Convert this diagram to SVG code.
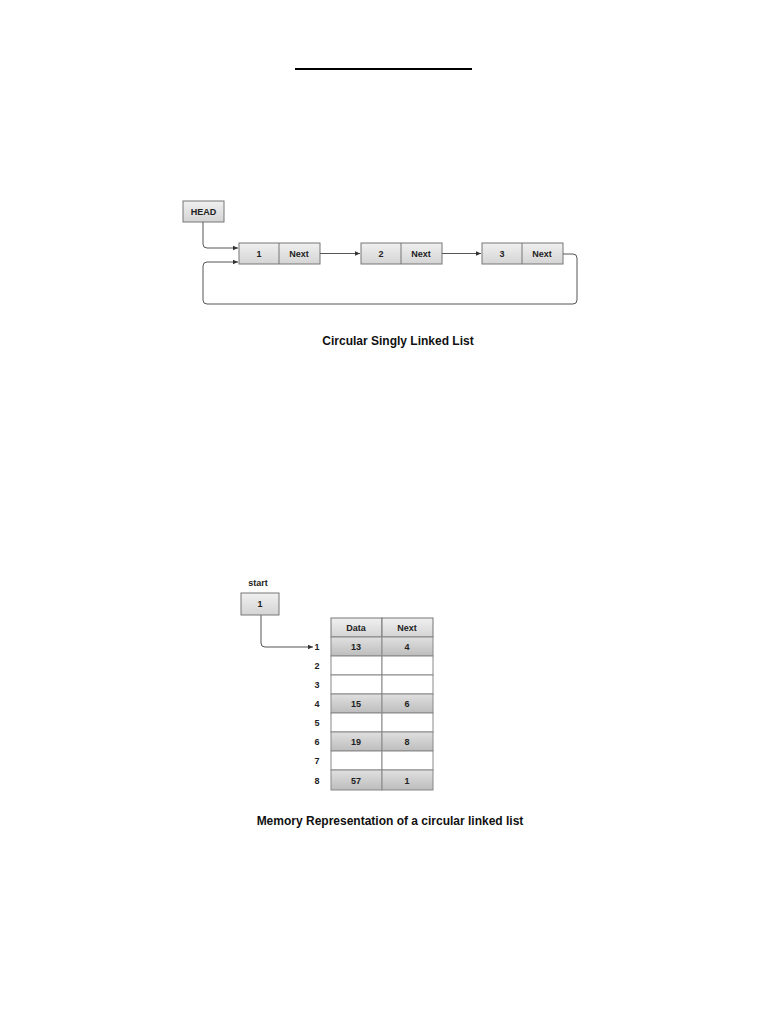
<svg xmlns="http://www.w3.org/2000/svg" width="768" height="1024" viewBox="0 0 768 1024">
<defs>
<linearGradient id="g" x1="0" y1="0" x2="0" y2="1"><stop offset="0" stop-color="#f0f0f0"/><stop offset="1" stop-color="#d4d4d4"/></linearGradient>
<linearGradient id="g2" x1="0" y1="0" x2="0" y2="1"><stop offset="0" stop-color="#e0e0e0"/><stop offset="1" stop-color="#bdbdbd"/></linearGradient>
<marker id="a" markerWidth="6" markerHeight="6" refX="5" refY="3" orient="auto"><path d="M0,0.8L5,3L0,5.2z" fill="#333"/></marker>
</defs>
<style>
.b{fill:url(#g);stroke:#777;stroke-width:1}
.s{fill:url(#g2);stroke:#888;stroke-width:1}
.w{fill:#fff;stroke:#888;stroke-width:1}
.t{font-family:"Liberation Sans",Arial,sans-serif;font-size:9px;font-weight:bold;fill:#222;text-anchor:middle}
.c{fill:none;stroke:#555;stroke-width:1}
.cap{font-family:"Liberation Sans",Arial,sans-serif;font-size:12px;font-weight:bold;fill:#111;text-anchor:middle}
</style>
<rect width="768" height="1024" fill="#fff"/>
<line x1="295" y1="69" x2="472" y2="69" stroke="#000" stroke-width="2"/>
<g id="head"><rect class="b" x="183" y="201" width="41" height="21"/><text class="t" x="203.5" y="215">HEAD</text></g>
<g id="node1"><rect class="b" x="239" y="243" width="81" height="21"/><line x1="279" y1="243" x2="279" y2="264" stroke="#777"/><text class="t" x="259" y="257">1</text><text class="t" x="299" y="257">Next</text></g>
<g id="node2"><rect class="b" x="361" y="243" width="81" height="21"/><line x1="401" y1="243" x2="401" y2="264" stroke="#777"/><text class="t" x="381" y="257">2</text><text class="t" x="421" y="257">Next</text></g>
<g id="node3"><rect class="b" x="482" y="243" width="81" height="21"/><line x1="522" y1="243" x2="522" y2="264" stroke="#777"/><text class="t" x="502" y="257">3</text><text class="t" x="542" y="257">Next</text></g>
<g id="connectors">
<path class="c" d="M203,222V244Q203,248 207,248H238" marker-end="url(#a)"/>
<path class="c" d="M320,253.5H360" marker-end="url(#a)"/>
<path class="c" d="M442,253.5H481" marker-end="url(#a)"/>
<path class="c" d="M563,254H573Q577,254 577,258V300Q577,304 573,304H207Q203,304 203,300V266Q203,262 207,262H238" marker-end="url(#a)"/>
<path class="c" d="M261,615V643Q261,647 265,647H313" marker-end="url(#a)"/>
</g>
<text class="cap" x="398" y="345">Circular Singly Linked List</text>
<text class="t" x="258" y="586">start</text>
<g id="start"><rect class="b" x="241" y="593" width="38" height="22"/><text class="t" x="260" y="607">1</text></g>
<g id="table">
<rect class="b" x="331" y="618" width="51" height="19"/><rect class="b" x="382" y="618" width="51" height="19"/>
<text class="t" x="356" y="631" font-weight="normal">Data</text><text class="t" x="407" y="631" font-weight="normal">Next</text>
<rect class="s" x="331" y="637" width="51" height="19"/><rect class="s" x="382" y="637" width="51" height="19"/>
<rect class="w" x="331" y="656" width="51" height="19"/><rect class="w" x="382" y="656" width="51" height="19"/>
<rect class="w" x="331" y="675" width="51" height="19"/><rect class="w" x="382" y="675" width="51" height="19"/>
<rect class="s" x="331" y="694" width="51" height="19"/><rect class="s" x="382" y="694" width="51" height="19"/>
<rect class="w" x="331" y="713" width="51" height="19"/><rect class="w" x="382" y="713" width="51" height="19"/>
<rect class="s" x="331" y="732" width="51" height="19"/><rect class="s" x="382" y="732" width="51" height="19"/>
<rect class="w" x="331" y="751" width="51" height="19"/><rect class="w" x="382" y="751" width="51" height="19"/>
<rect class="s" x="331" y="770" width="51" height="20"/><rect class="s" x="382" y="770" width="51" height="20"/>
<g font-weight="normal">
<text class="t" x="356" y="650" font-weight="normal">13</text><text class="t" x="407" y="650" font-weight="normal">4</text>
<text class="t" x="356" y="707" font-weight="normal">15</text><text class="t" x="407" y="707" font-weight="normal">6</text>
<text class="t" x="356" y="745" font-weight="normal">19</text><text class="t" x="407" y="745" font-weight="normal">8</text>
<text class="t" x="356" y="784" font-weight="normal">57</text><text class="t" x="407" y="784" font-weight="normal">1</text>
</g>
<text class="t" x="317" y="650">1</text><text class="t" x="317" y="669">2</text><text class="t" x="317" y="688">3</text><text class="t" x="317" y="707">4</text>
<text class="t" x="317" y="726">5</text><text class="t" x="317" y="745">6</text><text class="t" x="317" y="764">7</text><text class="t" x="317" y="784">8</text>
</g>
<text class="cap" x="390" y="825" font-size="11">Memory Representation of a circular linked list</text>
</svg>
